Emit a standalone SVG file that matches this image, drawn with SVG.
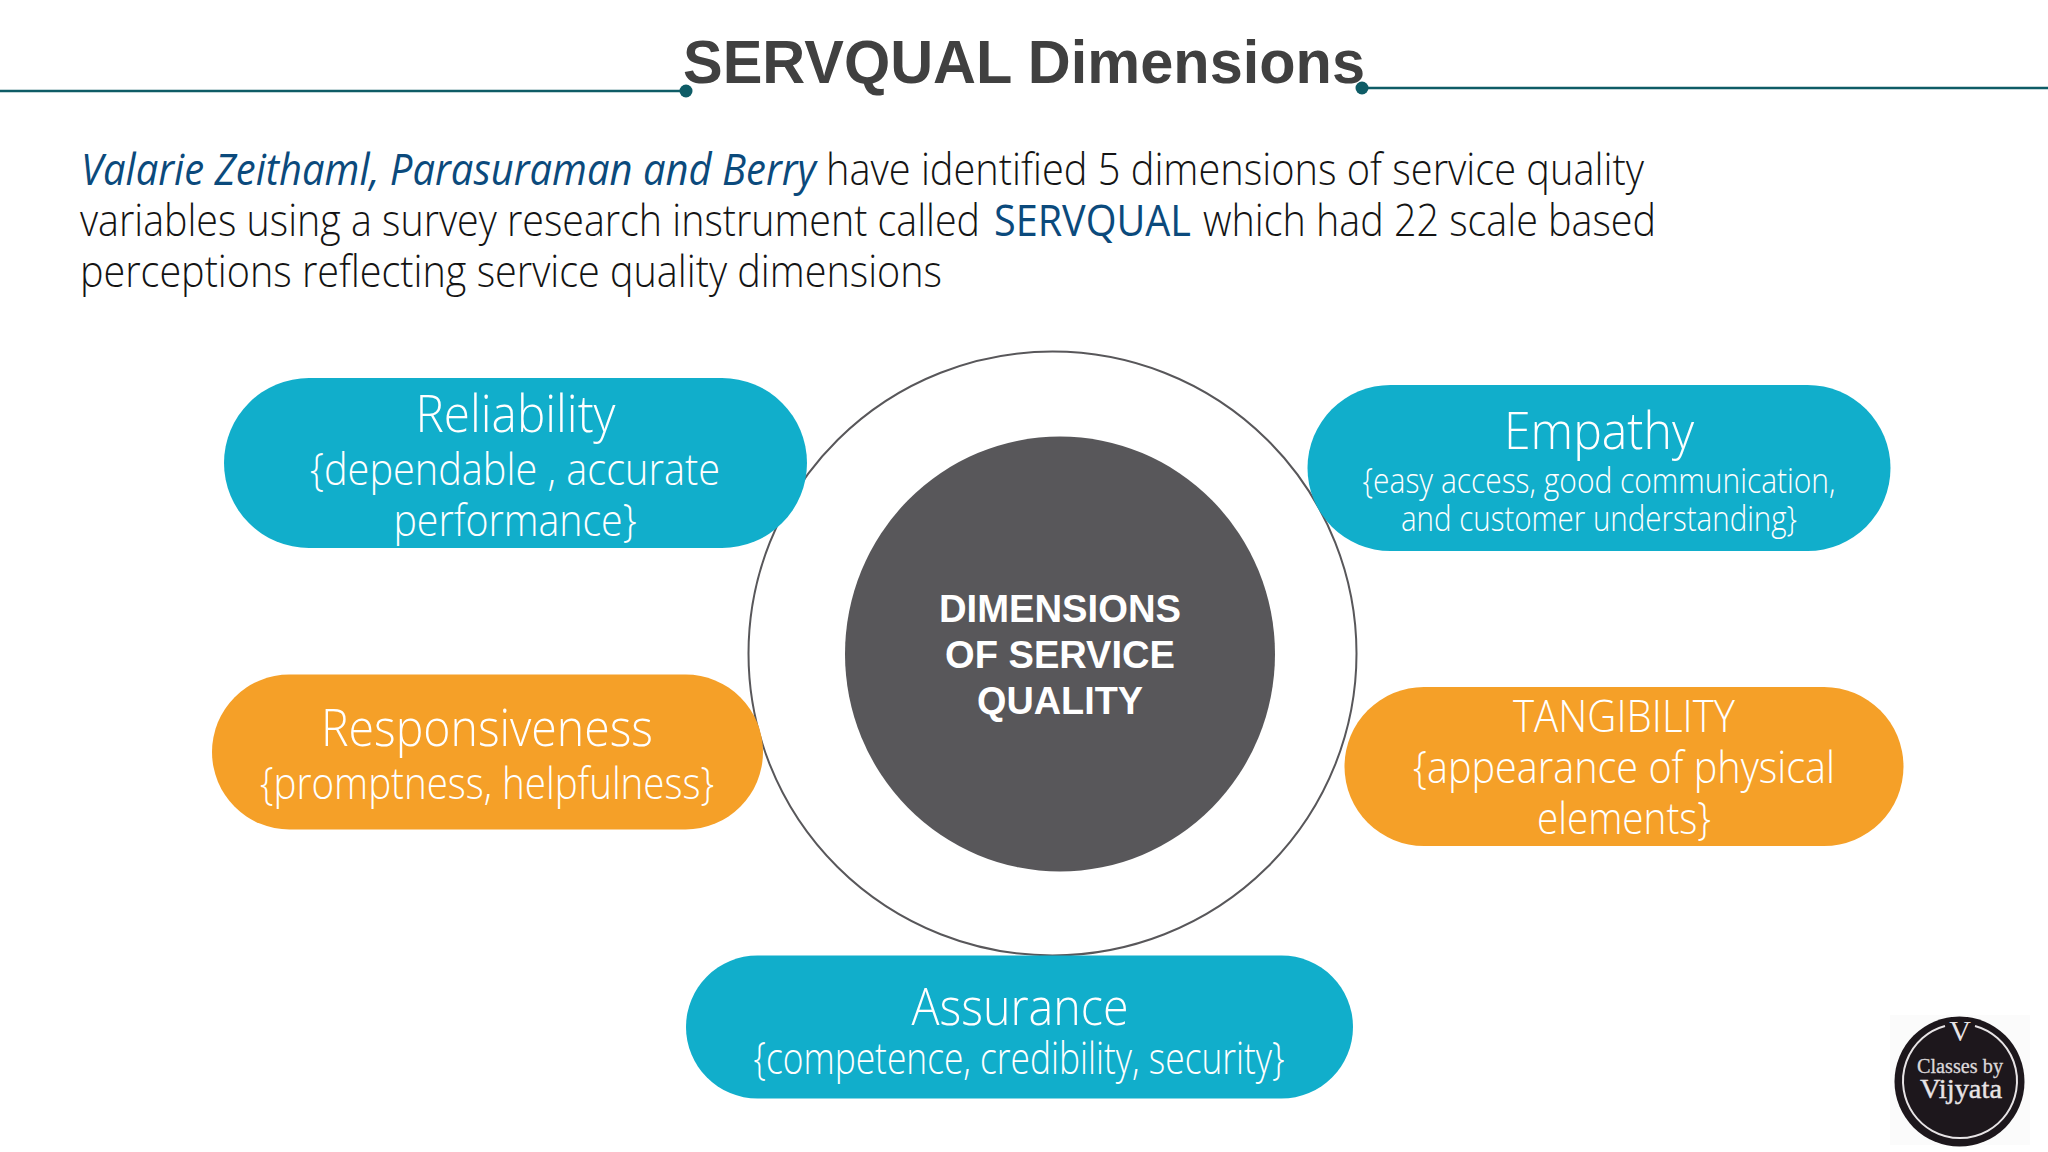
<svg xmlns="http://www.w3.org/2000/svg" width="2048" height="1152" viewBox="0 0 2048 1152">
<style>
.h{font-family:"Open Sans","Noto Sans",sans-serif;font-weight:300;font-size:44px;fill:#141414}
.b{fill:#0b4a7c;font-weight:400}
.p{font-family:"Open Sans","Noto Sans",sans-serif;font-weight:300;fill:#fff;text-anchor:middle}
.t1{font-size:52px}.t2{font-size:44px}.t3{font-size:34px}
.c{font-family:"Liberation Sans",Arial,sans-serif;font-weight:700;font-size:38px;fill:#fff;text-anchor:middle}
.teal{fill:#11aecb}.orange{fill:#f5a028}
.ln{stroke:#0e5c66;stroke-width:2.5;fill:none}.dot{fill:#0e5c66}
</style>
<rect width="2048" height="1152" fill="#fff"/>
<g id="title">
<path class="ln" d="M0 91H686"/><circle class="dot" cx="686" cy="91" r="6.5"/>
<path class="ln" d="M1362 88H2048"/><circle class="dot" cx="1362" cy="88" r="6.5"/>
<text x="683" y="83" font-family="'Liberation Sans',Arial,sans-serif" font-weight="700" font-size="61" fill="#404040" textLength="682" lengthAdjust="spacingAndGlyphs">SERVQUAL Dimensions</text>
</g>
<g id="intro">
<text class="h b" x="81" y="185" font-style="italic" textLength="735" lengthAdjust="spacingAndGlyphs">Valarie Zeithaml, Parasuraman and Berry</text>
<text class="h" x="826" y="185" textLength="818" lengthAdjust="spacingAndGlyphs">have identified 5 dimensions of service quality</text>
<text class="h" x="80" y="236" textLength="900" lengthAdjust="spacingAndGlyphs">variables using a survey research instrument called</text>
<text class="h b" x="994" y="236" textLength="197" lengthAdjust="spacingAndGlyphs">SERVQUAL</text>
<text class="h" x="1203" y="236" textLength="453" lengthAdjust="spacingAndGlyphs">which had 22 scale based</text>
<text class="h" x="80" y="287" textLength="862" lengthAdjust="spacingAndGlyphs">perceptions reflecting service quality dimensions</text>
</g>
<g id="outer-ring"><ellipse cx="1052.5" cy="653.5" rx="304" ry="302" fill="#fff" stroke="#58575a" stroke-width="2"/></g>
<g id="center">
<ellipse cx="1060" cy="654" rx="215" ry="217.5" fill="#58575a"/>
<text class="c" x="1060" y="622" textLength="242" lengthAdjust="spacingAndGlyphs">DIMENSIONS</text>
<text class="c" x="1060" y="668" textLength="230" lengthAdjust="spacingAndGlyphs">OF SERVICE</text>
<text class="c" x="1060" y="714" textLength="166" lengthAdjust="spacingAndGlyphs">QUALITY</text>
</g>
<g id="reliability">
<rect class="teal" x="224" y="378" width="583" height="170" rx="85"/>
<text class="p t1" x="515.500" y="432" textLength="200" lengthAdjust="spacingAndGlyphs">Reliability</text>
<text class="p t2" x="515" y="485" textLength="410" lengthAdjust="spacingAndGlyphs">{dependable , accurate</text>
<text class="p t2" x="515" y="536" textLength="243" lengthAdjust="spacingAndGlyphs">performance}</text>
</g>
<g id="responsiveness">
<rect class="orange" x="212" y="674.500" width="551" height="155" rx="77.5"/>
<text class="p t1" x="487" y="746" textLength="332" lengthAdjust="spacingAndGlyphs">Responsiveness</text>
<text class="p t2" x="487" y="799" textLength="454" lengthAdjust="spacingAndGlyphs">{promptness, helpfulness}</text>
</g>
<g id="empathy">
<rect class="teal" x="1307.500" y="385" width="583" height="166" rx="83"/>
<text class="p t1" x="1599" y="449" textLength="190" lengthAdjust="spacingAndGlyphs">Empathy</text>
<text class="p t3" x="1599" y="493" textLength="473" lengthAdjust="spacingAndGlyphs">{easy access, good communication,</text>
<text class="p t3" x="1599" y="531" textLength="396" lengthAdjust="spacingAndGlyphs">and customer understanding}</text>
</g>
<g id="tangibility">
<rect class="orange" x="1344.500" y="687" width="559" height="159" rx="79.5"/>
<text class="p t2" x="1624" y="732" textLength="222" lengthAdjust="spacingAndGlyphs">TANGIBILITY</text>
<text class="p t2" x="1624" y="783" textLength="422" lengthAdjust="spacingAndGlyphs">{appearance of physical</text>
<text class="p t2" x="1624" y="834" textLength="174" lengthAdjust="spacingAndGlyphs">elements}</text>
</g>
<g id="assurance">
<rect class="teal" x="686" y="955.500" width="667" height="143" rx="71.5"/>
<text class="p t1" x="1020" y="1025" textLength="217" lengthAdjust="spacingAndGlyphs">Assurance</text>
<text class="p t2" x="1019" y="1074" textLength="531" lengthAdjust="spacingAndGlyphs">{competence, credibility, security}</text>
</g>
<g id="logo">
<rect x="1890" y="1015" width="140" height="130" fill="#fbfbfb"/>
<circle cx="1959.500" cy="1081.500" r="65" fill="#1d171c"/>
<path d="M1945 1026A57 57 0 1 0 1975 1026" fill="none" stroke="#e8e4e6" stroke-width="2"/>
<text x="1960" y="1041" text-anchor="middle" font-family="'Liberation Serif',serif" font-size="30" fill="#e8e4e6">V</text>
<text x="1960" y="1073" text-anchor="middle" font-family="'Liberation Serif',serif" font-size="20" fill="#dcd8da" stroke="#dcd8da" stroke-width="0.3" textLength="86" lengthAdjust="spacingAndGlyphs">Classes by</text>
<text x="1961" y="1098" text-anchor="middle" font-family="'Liberation Serif',serif" font-size="28" fill="#e8e4e6" stroke="#e8e4e6" stroke-width="0.4" textLength="82" lengthAdjust="spacingAndGlyphs">Vijyata</text>
</g>
</svg>
